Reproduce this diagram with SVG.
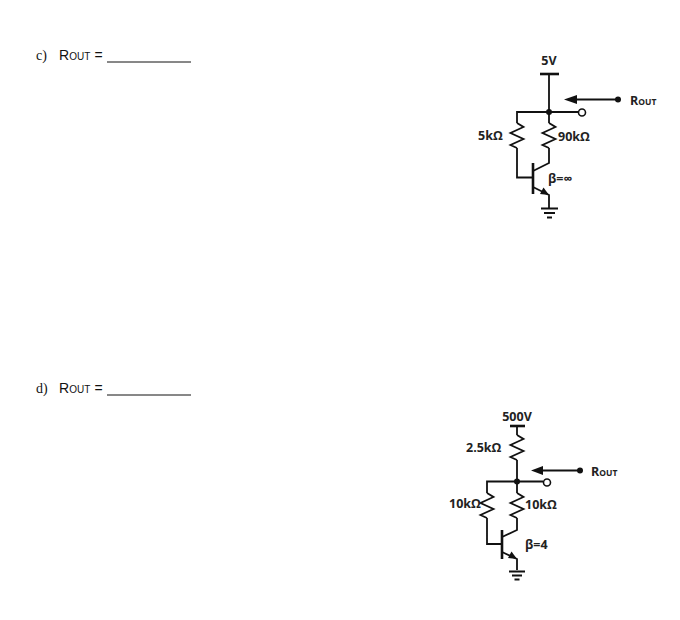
<svg xmlns="http://www.w3.org/2000/svg" width="680" height="620" viewBox="0 0 680 620">
<style>
.w{fill:none;stroke:#111;stroke-width:1.8;stroke-linejoin:miter}
.b{fill:none;stroke:#111;stroke-width:2.6}
.g{fill:none;stroke:#111;stroke-width:2.2}
.d{fill:#111}
.o{fill:#fff;stroke:#111;stroke-width:1.6}
.l{font-family:"Open Sans","Liberation Sans",sans-serif;font-weight:700;font-size:12.5px;fill:#222}
.s{font-size:8.5px}
.q{font-family:"Liberation Sans",sans-serif;font-size:14px;fill:#111}
.p{font-family:"Liberation Serif",serif;font-size:14px;fill:#111}
.u{stroke:#111;stroke-width:1;fill:none}
</style>
<defs>
<path id="rz" class="w" d="M0 0L6.500 4L-6.500 10L6.500 16L-6.500 22L0 25"/>
</defs>
<g id="question-c">
<text class="p" x="36" y="59.500">c)</text>
<text class="q" x="59" y="59.500">R<tspan font-size="10">OUT</tspan><tspan x="94.500">=</tspan></text>
<path class="u" d="M107 62H191"/>
</g>
<g id="question-d">
<text class="p" x="36" y="392.500">d)</text>
<text class="q" x="59" y="392.500">R<tspan font-size="10">OUT</tspan><tspan x="94.500">=</tspan></text>
<path class="u" d="M107 395H191"/>
</g>
<g id="connectors">
<path class="w" d="M549 74V112M517 123V112H578M517 148V177.500H532M549 123V112M549 148V163L533 171M533 187L549 195V208"/>
<path class="d" d="M549 195L540 194L543.500 187.500Z"/>
<path class="w" d="M577 99.500H617"/>
<path class="d" d="M564 99.500L577 95V104Z"/>
<path class="w" d="M517 426V435M517 460V482M487 493V481.500H543M487 518V544H501M517 493V482M517 518V530L502 537M502 552L517 559V570"/>
<path class="d" d="M517 559L508 558L511.500 551.500Z"/>
<path class="w" d="M543 470.500H580"/>
<path class="d" d="M531 470.500L543 466V475Z"/>
</g>
<g id="vcc-c"><path class="b" d="M540 74H559"/><text class="l" x="549" y="65" text-anchor="middle">5V</text></g>
<g id="r5k"><use href="#rz" x="517" y="123"/><text class="l" x="478" y="139.500">5kΩ</text></g>
<g id="r90k"><use href="#rz" x="549" y="123"/><text class="l" x="558" y="140.500">90kΩ</text></g>
<g id="q-c"><path class="b" d="M533 163V194"/><text class="l" x="548" y="183">β=∞</text></g>
<g id="gnd-c"><path class="g" d="M541 208.500H558M544 213H555M547 217.500H552"/></g>
<g id="junction-c"><circle class="d" cx="549" cy="112" r="3"/></g>
<g id="out-c"><circle class="o" cx="582" cy="112.500" r="3.500"/></g>
<g id="rout-c"><circle class="d" cx="618" cy="99.500" r="3"/><text class="l" x="630" y="105">R<tspan class="s">OUT</tspan></text></g>
<g id="vcc-d"><path class="b" d="M510 426H525"/><text class="l" x="517" y="421" text-anchor="middle">500V</text></g>
<g id="r25k"><use href="#rz" x="517" y="435"/><text class="l" x="466" y="451.500">2.5kΩ</text></g>
<g id="r10k-l"><use href="#rz" x="487" y="493"/><text class="l" x="449" y="507.500">10kΩ</text></g>
<g id="r10k-r"><use href="#rz" x="517" y="493"/><text class="l" x="525" y="508.500">10kΩ</text></g>
<g id="q-d"><path class="b" d="M502 530V559"/><text class="l" x="525" y="548.500">β=4</text></g>
<g id="gnd-d"><path class="g" d="M509 571.500H525M512 575.500H522M514.500 579.500H519.500"/></g>
<g id="junction-d"><circle class="d" cx="517" cy="481.500" r="3"/></g>
<g id="out-d"><circle class="o" cx="547" cy="482.500" r="3.500"/></g>
<g id="rout-d"><circle class="d" cx="580" cy="470.500" r="3"/><text class="l" x="591" y="476">R<tspan class="s">OUT</tspan></text></g>
</svg>
